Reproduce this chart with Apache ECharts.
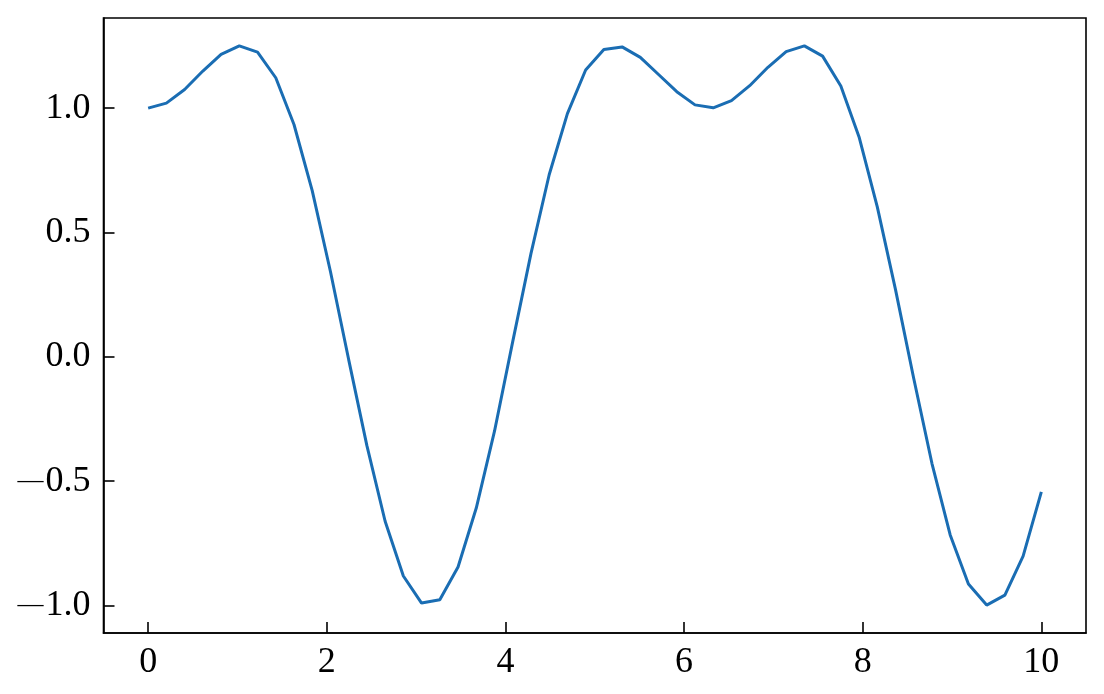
<!DOCTYPE html>
<html>
<head>
<meta charset="utf-8">
<script src="https://cdn.jsdelivr.net/npm/echarts@6/dist/echarts.min.js"></script>
<style>
html,body{margin:0;padding:0;background:#fff;}
#chart{width:1104px;height:694px;}
</style>
</head>
<body>
<div id="chart"></div>
<script>
// x sample positions (0..10, 50 points) and read-off y values
var xValues = [0, 0.2041, 0.4082, 0.6122, 0.8163, 1.0204, 1.2245, 1.4286, 1.6327, 1.8367,
  2.0408, 2.2449, 2.4490, 2.6531, 2.8571, 3.0612, 3.2653, 3.4694, 3.6735, 3.8776,
  4.0816, 4.2857, 4.4898, 4.6939, 4.8980, 5.1020, 5.3061, 5.5102, 5.7143, 5.9184,
  6.1224, 6.3265, 6.5306, 6.7347, 6.9388, 7.1429, 7.3469, 7.5510, 7.7551, 7.9592,
  8.1633, 8.3673, 8.5714, 8.7755, 8.9796, 9.1837, 9.3878, 9.5918, 9.7959, 10];
var yValues = [1.000, 1.020, 1.075, 1.149, 1.216, 1.250, 1.225, 1.122, 0.934, 0.668,
  0.343, -0.011, -0.357, -0.661, -0.881, -0.990, -0.977, -0.845, -0.608, -0.299,
  0.061, 0.415, 0.732, 0.978, 1.153, 1.236, 1.246, 1.204, 1.135, 1.066,
  1.013, 1.001, 1.030, 1.090, 1.164, 1.227, 1.250, 1.209, 1.089, 0.884,
  0.603, 0.270, -0.087, -0.429, -0.716, -0.913, -0.998, -0.958, -0.801, -0.543];
var xTicks = [0, 2, 4, 6, 8, 10];
var yTicks = [-1.0, -0.5, 0.0, 0.5, 1.0];
var xRange = [-0.5, 10.5];
var yRange = [-1.1103, 1.3622];

var pts = xValues.map(function (x, i) { return [x, yValues[i]]; });
function fmtNum(v, d) {
  var s = Math.abs(v).toFixed(d);
  return v < -1e-9 ? '{m|\u2014}{n|' + s + '}' : '{n|' + s + '}';
}
var font = '"Liberation Serif", "DejaVu Serif", serif';
var rich = {
  n: {fontFamily: font, fontSize: 36, color: '#000'},
  m: {fontFamily: font, fontSize: 26, color: '#000', padding: [0, 2, 0, 0]}
};
var chart = echarts.init(document.getElementById('chart'), null, {renderer: 'canvas'});
chart.setOption({
  animation: false,
  backgroundColor: '#ffffff',
  grid: {left: 103.5, right: 18, top: 18, bottom: 61, show: true,
    borderColor: '#000', borderWidth: 1.6, backgroundColor: 'transparent'},
  xAxis: {
    type: 'value', min: xRange[0], max: xRange[1],
    axisLine: {show: true, onZero: false, lineStyle: {color: '#000', width: 1.6}},
    axisTick: {show: true, inside: true, length: 11, customValues: xTicks, lineStyle: {color: '#000', width: 1.6}},
    axisLabel: {show: true, customValues: xTicks, color: '#000', fontFamily: font, fontSize: 36, margin: 12, rich: rich,
      formatter: function (v) { return fmtNum(v, 0); }},
    splitLine: {show: false}
  },
  yAxis: {
    type: 'value', min: yRange[0], max: yRange[1],
    axisLine: {show: true, onZero: false, lineStyle: {color: '#000', width: 1.6}},
    axisTick: {show: true, inside: true, length: 11, customValues: yTicks, lineStyle: {color: '#000', width: 1.6}},
    axisLabel: {show: true, customValues: yTicks, color: '#000', fontFamily: font, fontSize: 36, margin: 13, rich: rich,
      formatter: function (v) { return fmtNum(v, 1); }},
    splitLine: {show: false}
  },
  series: [{
    type: 'line', data: pts, showSymbol: false, smooth: false,
    lineStyle: {color: '#1a6db3', width: 3},
    itemStyle: {color: '#1a6db3'}
  }]
});
</script>
</body>
</html>
